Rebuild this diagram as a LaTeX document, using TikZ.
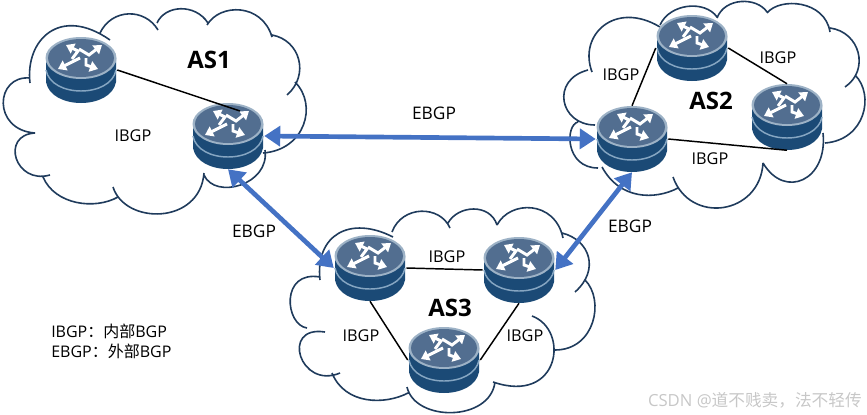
\documentclass[tikz,border=0pt]{standalone}
\usepackage{fontspec}
\setmainfont{Open Sans}
\newfontfamily\cjk{Noto Sans CJK SC}
\usetikzlibrary{arrows.meta}

\definecolor{cloudblue}{HTML}{1F3B5C}
\definecolor{linkblue}{HTML}{4472C4}
\definecolor{bodyblue}{HTML}{1B4A76}
\definecolor{bandblue}{HTML}{86A6C2}
\definecolor{topblue}{HTML}{526E90}
\definecolor{rimblue}{HTML}{9DB2C6}

% router drawn around the centre of its node
\newcommand{\routericon}{%
  \begin{scope}[shift={(path picture bounding box.center)}]
    \fill[bodyblue] (-35,-12) -- (-35,12) .. controls (-30,40) and (30,40) .. (35,12) -- (35,-12) -- cycle;
    \draw[bandblue,line width=1.1pt] (-35,0) .. controls (-30,28) and (30,28) .. (35,0);
    \fill[rimblue] (0,-12) ellipse [x radius=35.5,y radius=21];
    \fill[topblue] (0,-12) ellipse [x radius=33,y radius=19];
    % the four white arrows
    \draw[white,line width=2.2pt,-{Triangle[length=6pt,width=8pt]}] (-2,-21) -- (8,-15) -- (21,-25);
    \draw[white,line width=2.2pt,-{Triangle[length=6pt,width=8pt]}] (-9,-11) -- (-3,-19) -- (-15,-25);
    \draw[white,line width=2.2pt,-{Triangle[length=6pt,width=8pt]}] (-1,-12) -- (-23,-1);
    \draw[white,line width=2.2pt,-{Triangle[length=6pt,width=8pt]}] (5,-12) -- (5,-5) -- (17,-1);
  \end{scope}}

\begin{document}
\begin{tikzpicture}[x=0.75pt,y=-0.75pt,
    router/.style={rectangle,inner sep=0pt,minimum width=54pt,minimum height=49.5pt,path picture={\routericon}},
    cloud/.style={cloudblue,line width=1.2pt},
    ibgp/.style={black,line width=1.1pt},
    ebgp/.style={linkblue,line width=3.5pt,{Triangle[length=12pt,width=15pt]}-{Triangle[length=12pt,width=15pt]}},
    label/.style={font=\fontsize{12.2}{14}\selectfont,inner sep=0pt},
    extlabel/.style={font=\fontsize{13}{15}\selectfont,inner sep=0pt},
    asname/.style={font=\fontsize{18}{20}\selectfont\bfseries,inner sep=0pt}]
    \useasboundingbox (0,0) rectangle (867,414);

    % AS1 cloud
    \draw[cloud] (30,83) .. controls (25,40) and (60,5) .. (110,40)
        (100,33) .. controls (112,8) and (145,8) .. (158,30)
        (157,23) .. controls (165,5) and (195,3) .. (208,23)
        (207,25) .. controls (220,3) and (262,3) .. (272,37)
        (272,35) .. controls (300,40) and (310,75) .. (287,95)
        (295,82) .. controls (318,105) and (305,150) .. (263,153)
        (265,150) .. controls (270,185) and (215,200) .. (204,175)
        (204,173) .. controls (200,225) and (125,225) .. (113,187)
        (118,197) .. controls (95,210) and (55,205) .. (43,177)
        (50,175) .. controls (15,185) and (0,135) .. (35,133)
        (35,133) .. controls (-8,130) and (-5,75) .. (30,78);

    % AS2 cloud
    \draw[cloud] (592,72) .. controls (578,35) and (615,0) .. (660,27)
        (660,25) .. controls (670,3) and (705,0) .. (717,17)
        (717,18) .. controls (725,-3) and (757,-3) .. (767,12)
        (767,13) .. controls (780,-3) and (825,0) .. (830,32)
        (830,28) .. controls (860,32) and (870,70) .. (845,87)
        (855,75) .. controls (875,95) and (865,140) .. (825,143)
        (823,133) .. controls (828,180) and (785,200) .. (763,163)
        (763,163) .. controls (760,215) and (690,225) .. (673,177)
        (678,188) .. controls (655,200) and (620,200) .. (602,167)
        (598,168) .. controls (565,168) and (565,125) .. (578,122)
        (595,125) .. controls (560,125) and (550,80) .. (588,70);

    % AS3 cloud
    \draw[cloud] (320,280) .. controls (315,235) and (350,215) .. (393,237)
        (392,232) .. controls (402,205) and (440,205) .. (450,228)
        (448,223) .. controls (458,205) and (490,203) .. (497,225)
        (497,225) .. controls (510,200) and (555,200) .. (563,238)
        (562,233) .. controls (590,240) and (600,270) .. (575,292)
        (585,280) .. controls (605,300) and (595,350) .. (555,350)
        (532,316) .. controls (570,330) and (560,405) .. (493,382)
        (495,382) .. controls (490,422) and (415,422) .. (407,387)
        (408,393) .. controls (385,405) and (345,405) .. (332,373)
        (340,373) .. controls (300,390) and (280,325) .. (325,332)
        (307,328) .. controls (285,325) and (280,270) .. (320,277);

    % Routers
    \node[router] (as1a) at (81,70) {};
    \node[router] (as1b) at (228,136) {};
    \node[router] (as2t) at (692,48) {};
    \node[router] (as2r) at (787,117) {};
    \node[router] (as2l) at (632,139) {};
    \node[router] (as3l) at (370,268) {};
    \node[router] (as3r) at (519,270) {};
    \node[router] (as3b) at (444,360) {};

    % IBGP links
    \coordinate (as1end) at (240,111);
    \draw[ibgp] (as1a.east) -- (as1end);
    \draw[ibgp] (as2t.west) -- (as2l.north);
    \draw[ibgp] (as2t.east) -- (as2r.north);
    \draw[ibgp] (as2l.east) -- (as2r.south);
    \draw[ibgp] (as3l.east) -- (as3r.west);
    \draw[ibgp] (as3l.south) -- (as3b.west);
    \draw[ibgp] (as3b.east) -- (as3r.south);

    % EBGP links
    \draw[ebgp] (as1b.east) -- (as2l.west);
    \draw[ebgp] (as1b.south) -- (as3l.west);
    \draw[ebgp] (as2l.south) -- (as3r.east);

    % Labels
    \node[asname] (nameas1) at (209,60) {AS1};
    \node[asname] (nameas2) at (711,101) {AS2};
    \node[asname] (nameas3) at (450,308) {AS3};
    \node[label] (ib1) at (133,136) {IBGP};
    \node[label] (ib2) at (621,75) {IBGP};
    \node[label] (ib3) at (778,58) {IBGP};
    \node[label] (ib4) at (710,159) {IBGP};
    \node[label] (ib5) at (447,257) {IBGP};
    \node[label] (ib6) at (361,336) {IBGP};
    \node[label] (ib7) at (525,336) {IBGP};
    \node[extlabel] (eb1) at (434,113) {EBGP};
    \node[extlabel] (eb2) at (254,231) {EBGP};
    \node[extlabel] (eb3) at (630,226) {EBGP};

    % Legend and mark
    \node[label,anchor=west,font=\fontsize{12}{15}\selectfont] (ibnote) at (51,331) {IBGP{\cjk ^^^^ff1a内部}BGP};
    \node[label,anchor=west,font=\fontsize{12}{15}\selectfont] (ebnote) at (51,351) {EBGP{\cjk ^^^^ff1a外部}BGP};
    \node[label,anchor=east,text=black!22,font=\fontsize{12.5}{15}\selectfont] (mark) at (862,400) {CSDN @{\cjk 道不贱卖^^^^ff0c法不轻传}};
\end{tikzpicture}
\end{document}
